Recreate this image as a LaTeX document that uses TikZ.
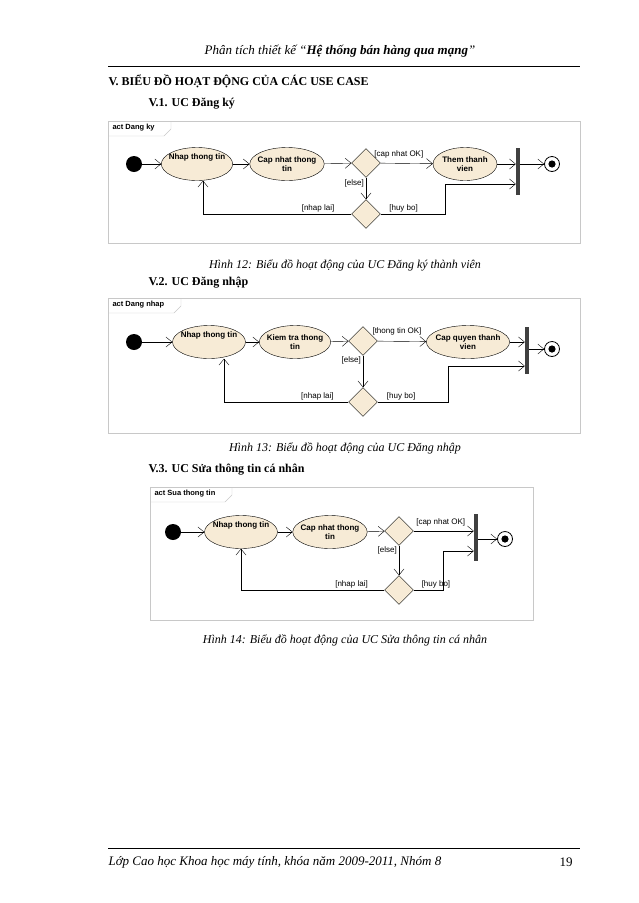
\documentclass[tikz,border=0pt]{standalone}
\usepackage{fontspec}
\setmainfont{Liberation Serif}
\newfontfamily\diag{Liberation Sans}
\usetikzlibrary{arrows.meta,shapes.geometric}

\definecolor{actfill}{HTML}{F7EBD6}
\definecolor{framegray}{HTML}{C8C8C8}

\begin{document}
\begin{tikzpicture}[
  x=1pt, y=-1pt,
  act/.style={draw, ellipse, fill=actfill, minimum width=64pt, minimum height=33pt, align=center, inner sep=-3pt, font=\diag\fontsize{8}{9.5}\selectfont\bfseries},
  decision/.style={draw, diamond, fill=actfill, minimum width=29pt, minimum height=29pt, inner sep=0pt},
  start/.style={circle, fill=black, minimum size=16pt, inner sep=0pt},
  stop/.style={circle, draw, thick, minimum size=15pt, inner sep=0pt, path picture={\fill (path picture bounding box.center) circle (3.6pt);}},
  bar/.style={fill=black!75, minimum width=4pt, minimum height=47pt, inner sep=0pt},
  guard/.style={font=\diag\fontsize{8}{9.5}\selectfont, inner sep=2pt},
  flow/.style={-{Straight Barb[length=6pt,width=10pt]}},
  frame/.style={draw=framegray},
  body/.style={font=\fontsize{12}{14}\selectfont, anchor=west}
]
\useasboundingbox (0,0) rectangle (638,903);

% page text
\node[font=\fontsize{13}{15}\selectfont\itshape] (hdr) at (340,51) {Phân tích thiết kế “\textbf{Hệ thống bán hàng qua mạng}”};
\draw (108,66) -- (580,66);
\node[body, font=\fontsize{12}{14}\selectfont\bfseries] (sec) at (105,81) {V. BIỂU ĐỒ HOẠT ĐỘNG CỦA CÁC USE CASE};
\node[body, font=\fontsize{12}{14}\selectfont\bfseries] (s1) at (145,104) {V.1. UC Đăng ký};
\node[font=\fontsize{12}{14}\selectfont\itshape] (cap1) at (345,265) {Hình 12: Biểu đồ hoạt động của UC Đăng ký thành viên};
\node[body, font=\fontsize{12}{14}\selectfont\bfseries] (s2) at (145,283) {V.2. UC Đăng nhập};
\node[font=\fontsize{12}{14}\selectfont\itshape] (cap2) at (345,448) {Hình 13: Biểu đồ hoạt động của UC Đăng nhập};
\node[body, font=\fontsize{12}{14}\selectfont\bfseries] (s3) at (145,470) {V.3. UC Sửa thông tin cá nhân};
\node[font=\fontsize{12}{14}\selectfont\itshape] (cap3) at (345,640) {Hình 14: Biểu đồ hoạt động của UC Sửa thông tin cá nhân};
\draw (108,848) -- (580,848);
\node[body, font=\fontsize{13}{15}\selectfont\itshape] (foot) at (105,862) {Lớp Cao học Khoa học máy tính, khóa năm 2009-2011, Nhóm 8};
\node[font=\fontsize{13}{15}\selectfont] (pg) at (566,862) {19};

% diagram 1: Dang ky
\draw[frame] (108,121) rectangle (580,243);
\draw[frame] (108,136) -- (164,136) -- (171,129) -- (171,121);
\node[anchor=west, font=\diag\fontsize{7.5}{8.5}\selectfont\bfseries] (t1) at (109,128) {act Dang ky};
\node[start] (a0) at (134,164) {};
\node[act] (a1) at (197,164) {Nhap thong tin\\[6pt]};
\node[act] (a2) at (287,164) {Cap nhat thong\\tin};
\node[decision] (ad1) at (366,163) {};
\node[act] (a3) at (465,164) {Them thanh\\vien};
\node[bar] (ab) at (518,171) {};
\node[stop] (af) at (552,164) {};
\node[decision] (ad2) at (366,214) {};
\coordinate (aj) at (445,184);
\draw[flow] (a0) -- (a1);
\draw[flow] (a1) -- (a2);
\draw[flow] (a2) -- (ad1);
\draw[flow] (ad1) -- node[guard, above, pos=0.35, yshift=3pt] {[cap nhat OK]} (a3);
\draw[flow] (a3) -- (a3 -| ab.west);
\draw[flow] (ab.east |- af) -- (af);
\draw[flow] (ad1) -- node[guard, left, pos=0.25] {[else]} (ad2);
\draw[flow] (ad2.west) -| node[guard, above left, pos=0.05] {[nhap lai]} ([xshift=6pt]a1.south);
\draw[flow] (ad2.east) -| node[guard, above right, pos=0.05] {[huy bo]} (aj) -- (aj -| ab.west);

% diagram 2: Dang nhap
\draw[frame] (108,298) rectangle (580,433);
\draw[frame] (108,313) -- (174,313) -- (181,306) -- (181,298);
\node[anchor=west, font=\diag\fontsize{7.5}{8.5}\selectfont\bfseries] (t2) at (109,305) {act Dang nhap};
\node[start] (b0) at (134,342) {};
\node[act, minimum width=73pt] (b1) at (209,342) {Nhap thong tin\\[6pt]};
\node[act] (b2) at (295,342) {Kiem tra thong\\tin};
\node[decision] (bd1) at (363,341) {};
\node[act, minimum width=70pt] (b3) at (468,342) {Cap quyen thanh\\vien};
\node[bar] (bb) at (527,350) {};
\node[stop] (bf) at (552,349) {};
\node[decision] (bd2) at (363,402) {};
\coordinate (bj) at (448,366);
\draw[flow] (b0) -- (b1);
\draw[flow] (b1) -- (b2);
\draw[flow] (b2) -- (bd1);
\draw[flow] (bd1) -- node[guard, above, pos=0.4, yshift=4pt] {[thong tin OK]} (b3);
\draw[flow] (b3) -- (b3 -| bb.west);
\draw[flow] (bb.east |- bf) -- (bf);
\draw[flow] (bd1) -- node[guard, left, pos=0.15] {[else]} (bd2);
\draw[flow] (bd2.west) -| node[guard, above left, pos=0.05] {[nhap lai]} ([xshift=15pt]b1.south);
\draw[flow] (bd2.east) -| node[guard, above right, pos=0.05] {[huy bo]} (bj) -- (bj -| bb.west);

% diagram 3: Sua thong tin
\draw[frame] (150,487) rectangle (533,620);
\draw[frame] (150,502) -- (225,502) -- (232,495) -- (232,487);
\node[anchor=west, font=\diag\fontsize{7.5}{8.5}\selectfont\bfseries] (t3) at (151,494) {act Sua thong tin};
\node[start] (c0) at (173,532) {};
\node[act, minimum width=73pt] (c1) at (241,532) {Nhap thong tin\\[6pt]};
\node[act] (c2) at (330,532) {Cap nhat thong\\tin};
\node[decision] (cd1) at (399,531) {};
\node[bar] (cb) at (476,537) {};
\node[stop] (cf) at (505,539) {};
\node[decision] (cd2) at (399,590) {};
\coordinate (cj) at (443,551);
\draw[flow] (c0) -- (c1);
\draw[flow] (c1) -- (c2);
\draw[flow] (c2) -- (cd1);
\draw[flow] (cd1) -- node[guard, above, pos=0.45, yshift=3pt] {[cap nhat OK]} (cd1 -| cb.west);
\draw[flow] (cb.east |- cf) -- (cf);
\draw[flow] (cd1) -- node[guard, left, pos=0.15] {[else]} (cd2);
\draw[flow] (cd2.west) -| node[guard, above left, pos=0.05] {[nhap lai]} (c1.south);
\draw[flow] (cd2.east) -| node[guard, above right, pos=0.1] {[huy bo]} (cj) -- (cj -| cb.west);
\end{tikzpicture}
\end{document}
